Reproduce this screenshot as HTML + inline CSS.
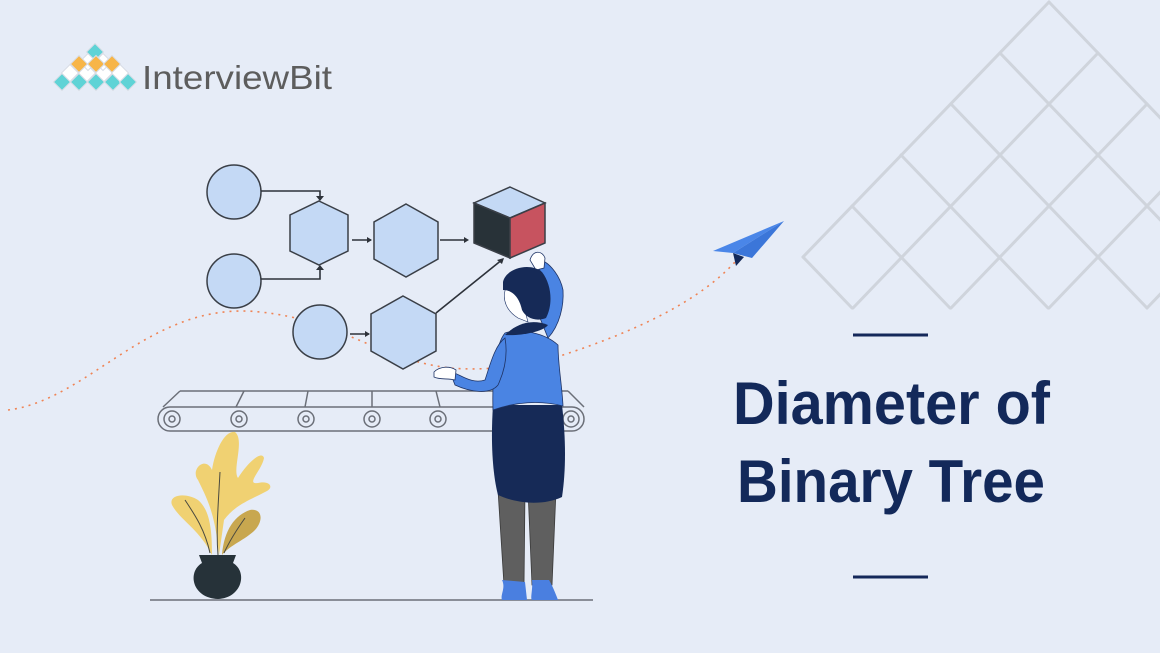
<!DOCTYPE html>
<html><head><meta charset="utf-8"><style>
html,body{margin:0;padding:0;background:#e6ecf7;}
svg{display:block}
</style></head><body>
<svg width="1160" height="653" viewBox="0 0 1160 653" xmlns="http://www.w3.org/2000/svg">
<rect width="1160" height="653" fill="#e6ecf7"/>
<!-- logo -->
<g stroke="#d9dde6" stroke-width="1">
<g fill="#5fd3d6">
<rect x="-6" y="-6" width="12" height="12" transform="translate(62,82) rotate(45)"/>
<rect x="-6" y="-6" width="12" height="12" transform="translate(79,82) rotate(45)"/>
<rect x="-6" y="-6" width="12" height="12" transform="translate(96,82) rotate(45)"/>
<rect x="-6" y="-6" width="12" height="12" transform="translate(113,82) rotate(45)"/>
<rect x="-6" y="-6" width="12" height="12" transform="translate(128,82) rotate(45)"/>
<rect x="-6" y="-6" width="12" height="12" transform="translate(95,52) rotate(45)"/>
</g>
<g fill="#ffffff">
<rect x="-6" y="-6" width="12" height="12" transform="translate(70,73) rotate(45)"/>
<rect x="-6" y="-6" width="12" height="12" transform="translate(87,73) rotate(45)"/>
<rect x="-6" y="-6" width="12" height="12" transform="translate(104,73) rotate(45)"/>
<rect x="-6" y="-6" width="12" height="12" transform="translate(120,73) rotate(45)"/>
<rect x="-6" y="-6" width="12" height="12" transform="translate(88,62) rotate(45)"/>
<rect x="-6" y="-6" width="12" height="12" transform="translate(103,62) rotate(45)"/>
</g>
<g fill="#f7b548">
<rect x="-6" y="-6" width="12" height="12" transform="translate(79,64) rotate(45)"/>
<rect x="-6" y="-6" width="12" height="12" transform="translate(96,64) rotate(45)"/>
<rect x="-6" y="-6" width="12" height="12" transform="translate(112,64) rotate(45)"/>
</g>
</g>
<text x="142" y="89" font-family="Liberation Sans, sans-serif" font-size="33" fill="#5d5d5d" textLength="190" lengthAdjust="spacingAndGlyphs">InterviewBit</text>

<!-- grid -->
<g stroke="#cfd4dc" stroke-width="3" fill="none" stroke-linecap="round">
<line x1="803" y1="257" x2="1049" y2="2"/>
<line x1="853" y1="308" x2="1098" y2="53"/>
<line x1="951" y1="308" x2="1147" y2="104"/>
<line x1="1049" y1="308" x2="1196" y2="155"/>
<line x1="1147" y1="308" x2="1245" y2="206"/>
<line x1="803" y1="257" x2="852" y2="308"/>
<line x1="852" y1="206" x2="950" y2="308"/>
<line x1="901" y1="155" x2="1048" y2="308"/>
<line x1="951" y1="104" x2="1147" y2="308"/>
<line x1="1000" y1="53" x2="1245" y2="308"/>
<line x1="1049" y1="2" x2="1343" y2="308"/>
</g>

<!-- title -->
<line x1="853" y1="335" x2="928" y2="335" stroke="#14285a" stroke-width="3"/>
<line x1="853" y1="577" x2="928" y2="577" stroke="#14285a" stroke-width="3"/>
<text x="733" y="424" font-family="Liberation Sans, sans-serif" font-weight="bold" font-size="60" fill="#13295a" textLength="317" lengthAdjust="spacingAndGlyphs">Diameter of</text>
<text x="737" y="502" font-family="Liberation Sans, sans-serif" font-weight="bold" font-size="60" fill="#13295a" textLength="308" lengthAdjust="spacingAndGlyphs">Binary Tree</text>

<!-- dotted curve -->
<path d="M8,410 C90,400 150,300 260,312 C340,320 380,360 450,368 C500,372 530,362 560,356 C640,330 700,300 735,262" fill="none" stroke="#ef8455" stroke-width="1.6" stroke-dasharray="2,5"/>

<!-- plane -->
<polygon points="784,221 713,251 733,253" fill="#4a86e8"/>
<polygon points="784,221 733,253 752,258" fill="#3b76d9"/>
<polygon points="733,253 744,257 736,266" fill="#13295a"/>

<!-- diagram -->
<g stroke="#3a3f47" stroke-width="1.5" fill="#c4d9f5">
<circle cx="234" cy="192" r="27"/>
<circle cx="234" cy="281" r="27"/>
<circle cx="320" cy="332" r="27"/>
<polygon points="319,201 348,215 348,251 319,265 290,251 290,215"/>
<polygon points="406,204 438,222 438,259 406,277 374,259 374,222"/>
<polygon points="403,296 436,314 436,351 403,369 371,351 371,314"/>
<polygon points="510,187 545,203 510,218 474,203" fill="#c4d9f5"/>
<polygon points="474,203 510,218 510,258 474,243" fill="#283238"/>
<polygon points="510,218 545,203 545,243 510,258" fill="#c7535f"/>
</g>
<g stroke="#2d323a" stroke-width="1.6" fill="none">
<polyline points="261,191 320,191 320,200"/>
<polyline points="261,279 320,279 320,266"/>
<line x1="352" y1="240" x2="371" y2="240"/>
<line x1="440" y1="240" x2="467" y2="240"/>
<line x1="350" y1="334" x2="369" y2="334"/>
<line x1="436" y1="313" x2="503" y2="259"/>
</g>
<g fill="#2d323a">
<polygon points="316,196 324,196 320,201"/>
<polygon points="316,270 324,270 320,265"/>
<polygon points="367,237 367,243 372,240"/>
<polygon points="464,237 464,243 469,240"/>
<polygon points="365,331 365,337 370,334"/>
<polygon points="504,258 497,260 502,264"/>
</g>

<!-- conveyor -->
<g stroke="#6b6f78" stroke-width="1.5" fill="none">
<line x1="180" y1="391" x2="568" y2="391"/>
<line x1="180" y1="391" x2="163" y2="407"/>
<line x1="568" y1="391" x2="584" y2="407"/>
<rect x="158" y="407" width="426" height="24" rx="12"/>
<line x1="244" y1="391" x2="236" y2="407"/>
<line x1="308" y1="391" x2="305" y2="407"/>
<line x1="372" y1="391" x2="372" y2="407"/>
<line x1="436" y1="391" x2="440" y2="407"/>
<line x1="500" y1="391" x2="505" y2="407"/>
<g>
<circle cx="172" cy="419" r="8"/><circle cx="172" cy="419" r="3"/>
<circle cx="239" cy="419" r="8"/><circle cx="239" cy="419" r="3"/>
<circle cx="306" cy="419" r="8"/><circle cx="306" cy="419" r="3"/>
<circle cx="372" cy="419" r="8"/><circle cx="372" cy="419" r="3"/>
<circle cx="438" cy="419" r="8"/><circle cx="438" cy="419" r="3"/>
<circle cx="571" cy="419" r="8"/><circle cx="571" cy="419" r="3"/>
</g>
</g>
<line x1="150" y1="600" x2="593" y2="600" stroke="#6b6f78" stroke-width="1.5"/>

<!-- plant -->
<path d="M219,555 C215,510 205,495 198,480 C190,470 205,455 212,470 C215,450 225,430 235,432 C245,440 232,470 238,478 C248,462 262,450 264,458 C262,470 245,485 258,483 C270,480 275,488 265,492 C250,500 235,505 224,520 Z" fill="#f0d172"/>
<path d="M212,555 C200,530 180,520 172,505 C168,495 185,492 198,500 C210,510 212,530 212,555 Z" fill="#f0d172"/>
<path d="M222,555 C224,530 235,515 250,510 C262,508 264,520 255,530 C245,540 230,545 222,555 Z" fill="#c8a74f"/>
<g stroke="#4a4a40" stroke-width="1" fill="none">
<path d="M218,555 C216,530 218,510 220,472"/>
<path d="M210,553 C205,530 195,515 185,500"/>
<path d="M224,553 C230,540 240,525 245,518"/>
</g>
<path d="M199,555 L236,555 L233,563 C248,572 242,598 218,599 C192,598 187,572 202,563 Z" fill="#263239"/>

<!-- person -->
<path d="M498,490 L525,490 L524,585 L504,585 Z" fill="#5f5f5f" stroke="#3a3a3a" stroke-width="0.8"/>
<path d="M528,490 L556,490 L552,585 L532,585 Z" fill="#5f5f5f" stroke="#3a3a3a" stroke-width="0.8"/>
<path d="M502,580 C506,588 500,595 502,600 L527,600 L525,582 Z" fill="#4a7fe0"/>
<path d="M532,580 C533,590 530,598 532,600 L558,600 C555,592 552,585 549,580 Z" fill="#4a7fe0"/>
<path d="M493,405 C490,450 494,480 498,495 C520,505 545,505 562,497 C566,470 566,440 562,405 Z" fill="#162a57"/>
<path d="M505,333 C495,345 492,380 493,410 C515,402 540,400 563,406 C562,385 558,365 558,345 C545,333 520,328 505,333 Z" fill="#4a84e3" stroke="#1f3466" stroke-width="0.8"/>
<path d="M505,338 C495,345 490,365 485,380 C470,385 458,372 450,372 L455,385 C470,392 490,395 498,385 C505,370 508,355 505,338 Z" fill="#4a84e3" stroke="#1f3466" stroke-width="0.8"/>
<path d="M548,338 C560,325 564,305 563,290 C560,275 550,265 545,262 L538,268 C548,280 552,300 540,318 Z" fill="#4a84e3" stroke="#1f3466" stroke-width="0.8"/>
<path d="M434,372 C440,366 450,366 456,370 L455,380 C448,378 440,380 434,377 Z" fill="#ffffff" stroke="#1f3466" stroke-width="0.8"/>
<path d="M530,260 C533,250 542,250 545,258 L544,268 L536,270 Z" fill="#ffffff" stroke="#1f3466" stroke-width="0.8"/>
<path d="M507,285 C500,300 508,312 518,318 L528,322 L522,300 Z" fill="#ffffff" stroke="#1f3466" stroke-width="0.6"/>
<path d="M503,282 C506,268 530,262 542,272 C552,285 553,305 546,318 C536,322 526,318 522,310 C520,300 514,290 503,290 Z" fill="#162a57"/>
<path d="M505,335 C515,325 530,318 548,325 C543,332 520,336 505,335 Z" fill="#162a57"/>
</svg>
</body></html>
